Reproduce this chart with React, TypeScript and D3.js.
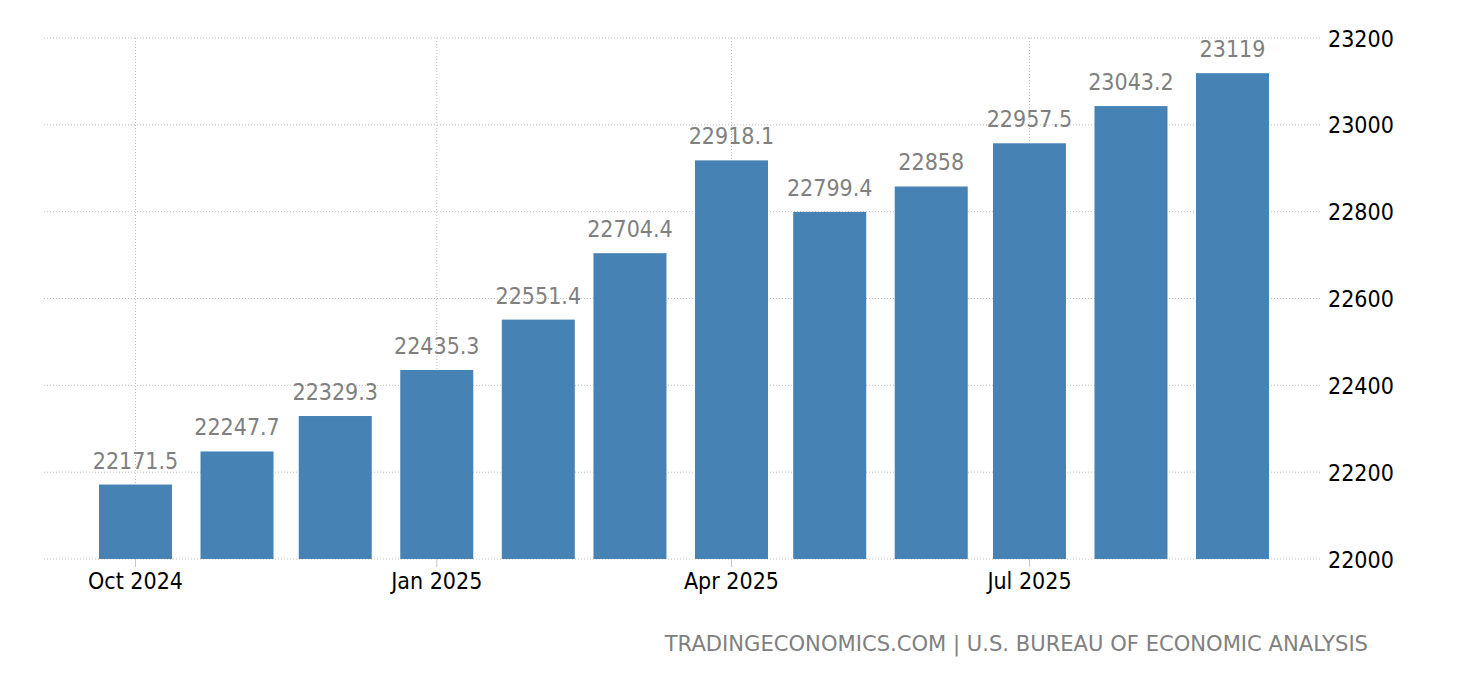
import React from "react";
import * as d3 from "d3";

const months: string[] = ["2024-10", "2024-11", "2024-12", "2025-01", "2025-02", "2025-03", "2025-04", "2025-05", "2025-06", "2025-07", "2025-08", "2025-09"];
const values: number[] = [22171.5, 22247.7, 22329.3, 22435.3, 22551.4, 22704.4, 22918.1, 22799.4, 22858, 22957.5, 23043.2, 23119];
const labels: string[] = ["22171.5", "22247.7", "22329.3", "22435.3", "22551.4", "22704.4", "22918.1", "22799.4", "22858", "22957.5", "23043.2", "23119"];
const yTicks: number[] = [22000, 22200, 22400, 22600, 22800, 23000, 23200];
const xTicks: string[] = ["2024-10", "2025-01", "2025-04", "2025-07"];
const xTickLabels: string[] = ["Oct 2024", "Jan 2025", "Apr 2025", "Jul 2025"];
const footer = "TRADINGECONOMICS.COM | U.S. BUREAU OF ECONOMIC ANALYSIS";

const W = 1460, H = 680;
const left = 44, right = 1322, top = 38, bottom = 559;
const FONT = "'DejaVu Sans Condensed', 'DejaVu Sans', sans-serif";

const parse = d3.timeParse("%Y-%m");

export default function App() {
  const x = d3.scaleTime()
    .domain([parse("2024-10")!, parse("2025-09")!])
    .range([135.5, 1232.5]);
  const y = d3.scaleLinear().domain([22000, 23200]).range([bottom, top]);
  const bw = 73;

  return (
    <svg width={W} height={H} style={{ position: "absolute", left: 0, top: 0, background: "#fff" }} fontFamily={FONT}>
      {yTicks.map((t) => (
        <line key={"gy" + t} x1={left} x2={right} y1={y(t)} y2={y(t)} stroke="#c0c0c0" strokeWidth={1} strokeDasharray="1,2" />
      ))}
      {xTicks.map((t) => (
        <line key={"gx" + t} x1={x(parse(t)!)} x2={x(parse(t)!)} y1={top} y2={bottom} stroke="#c0c0c0" strokeWidth={1} strokeDasharray="1,2" />
      ))}
      {months.map((m, i) => (
        <rect key={m} x={x(parse(m)!) - bw / 2} y={y(values[i])} width={bw} height={bottom - y(values[i])} fill="#4682b4" />
      ))}
      {months.map((m, i) => (
        <text key={"l" + m} x={x(parse(m)!)} y={y(values[i]) - 16} textAnchor="middle" fontSize={23} fill="#808080">{labels[i]}</text>
      ))}
      {xTicks.map((t, i) => (
        <g key={"xt" + t}>
          <line x1={x(parse(t)!)} x2={x(parse(t)!)} y1={bottom} y2={bottom + 8} stroke="#c8c8c8" strokeWidth={1} />
          <text x={x(parse(t)!)} y={589} textAnchor="middle" fontSize={23} fill="#000">{xTickLabels[i]}</text>
        </g>
      ))}
      {yTicks.map((t) => (
        <text key={"yt" + t} x={1328} y={y(t) + 8.5} textAnchor="start" fontSize={23} fill="#000">{t}</text>
      ))}
      <text x={1368} y={651} textAnchor="end" fontSize={21.1} fill="#808080" fontFamily="'DejaVu Sans', sans-serif">{footer}</text>
    </svg>
  );
}
